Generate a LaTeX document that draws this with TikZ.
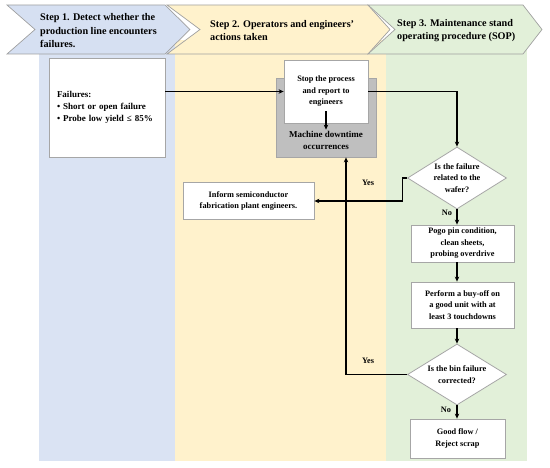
\documentclass[tikz,border=0pt]{standalone}
\usepackage{fontspec}
\setmainfont{Liberation Serif}
\usetikzlibrary{shapes.geometric,arrows.meta}
\definecolor{colblue}{HTML}{DAE3F3}
\definecolor{colyellow}{HTML}{FFF2CC}
\definecolor{colgreen}{HTML}{E2F0D9}
\definecolor{chevblue}{HTML}{D6E0F2}
\definecolor{chevyellow}{HTML}{FFF2CC}
\definecolor{chevgreen}{HTML}{E2F0D9}
\definecolor{chevline}{HTML}{A0A0A0}
\definecolor{boxline}{HTML}{A6A6A6}
\definecolor{grayfill}{HTML}{BFBFBF}
\newcommand\myboxfont{\fontsize{8.3}{11.5}\selectfont\bfseries}
\newcommand\mybigboxfont{\fontsize{9}{12}\selectfont\bfseries}
\newcommand\myheadfont{\fontsize{10.2}{13.5}\selectfont\bfseries}
\begin{document}
\begin{tikzpicture}[x=1pt,y=-1pt,
  chev/.style={draw=chevline, line width=0.7pt},
  box/.style={draw=boxline, line width=0.8pt, fill=white, inner sep=0pt, font=\myboxfont, align=center},
  dia/.style={shape=diamond, draw=boxline, line width=0.8pt, fill=white, inner sep=0pt},
  txt/.style={font=\myboxfont, align=center, inner sep=1pt},
  head/.style={font=\myheadfont, align=left, anchor=west, inner sep=0pt},
  arr/.style={draw=black, line width=1.1pt, -{Stealth[length=5pt,width=4.5pt]}}]
\useasboundingbox (0,0) rectangle (550,468);
% columns
\fill[colblue] (39,40) rectangle (175,461);
\fill[colyellow] (175,40) rectangle (386,461);
\fill[colgreen] (386,40) rectangle (527,461);
% chevrons
\draw[chev, fill=chevblue] (7,5) -- (165,5) -- (190,29.5) -- (165,54) -- (7,54) -- (35,29.5) -- cycle;
\draw[chev, fill=chevyellow] (167,5) -- (368,5) -- (390,29.5) -- (368,54) -- (167,54) -- (200,29.5) -- cycle;
\draw[chev, fill=chevgreen] (368,5) -- (523,5) -- (542,29.5) -- (523,54) -- (368,54) -- (395,29.5) -- cycle;
\node[head] (h1) at (40,31) {Step 1. Detect whether the\\production line encounters\\failures.};
\node[head] (h2) at (210,30.5) {Step 2. Operators and engineers'\\actions taken};
\node[head] (h3) at (397,30.5) {Step 3. Maintenance stand\\operating procedure (SOP)};
% boxes
\node[box, font=\mybigboxfont, minimum width=116pt, minimum height=99pt, text width=100pt, align=left] (fail) at (107,107.5)
  {Failures:\\• Short or open failure\\• Probe low yield ≤ 85\%};
\node[draw=boxline, line width=0.8pt, fill=grayfill, minimum width=100pt, minimum height=79pt, inner sep=0pt] (gray) at (326,117.5) {};
\node[box, minimum width=84pt, minimum height=63pt] (stop) at (326,91.5) {Stop the process\\and report to\\engineers};
\node[txt, font=\mybigboxfont] (mdt) at (326,140) {Machine downtime\\occurrences};
\node[box, minimum width=131pt, minimum height=37pt] (inform) at (248.5,201) {Inform semiconductor\\fabrication plant engineers.};
\node[dia, minimum width=99pt, minimum height=62pt] (d1) at (457,178) {};
\node[txt] (d1t) at (d1.center) {Is the failure\\related to the\\wafer?};
\node[box, minimum width=103pt, minimum height=37pt] (pogo) at (462.5,243.5) {Pogo pin condition,\\clean sheets,\\probing overdrive};
\node[box, minimum width=103pt, minimum height=46pt] (buy) at (462.5,305) {Perform a buy-off on\\a good unit with at\\least 3 touchdowns};
\node[dia, minimum width=99pt, minimum height=61pt] (d2) at (457,374.5) {};
\node[txt] (d2t) at (d2.center) {Is the bin failure\\corrected?};
\node[box, minimum width=95pt, minimum height=39pt] (good) at (457.5,438.5) {Good flow /\\Reject scrap};
% labels
\node[txt] (yes1) at (368,183) {Yes};
\node[txt] (yes2) at (368,361) {Yes};
\node[txt] (no1) at (447,213) {No};
\node[txt] (no2) at (446,410) {No};
% connectors
\draw[arr] (fail.east |- stop.west) -- (stop.west);
\draw[arr] ([yshift=12pt]stop.south) -- (mdt.north);
\draw[arr] (stop.east) -| (d1.north);
\draw[arr] (d1.west) -- ++(-5,0) |- (inform.east);
\draw[arr] (d1.south) -- (d1.south |- pogo.north);
\draw[arr] (d1.south |- pogo.south) -- (d1.south |- buy.north);
\draw[arr] (d1.south |- buy.south) -- (d2.north);
\draw[arr] (d2.south) -- (d2.south |- good.north);
\coordinate (yesx) at (346,374.5);
\draw[arr] (d2.west) -- (yesx) -- (yesx |- gray.south);
\end{tikzpicture}
\end{document}
